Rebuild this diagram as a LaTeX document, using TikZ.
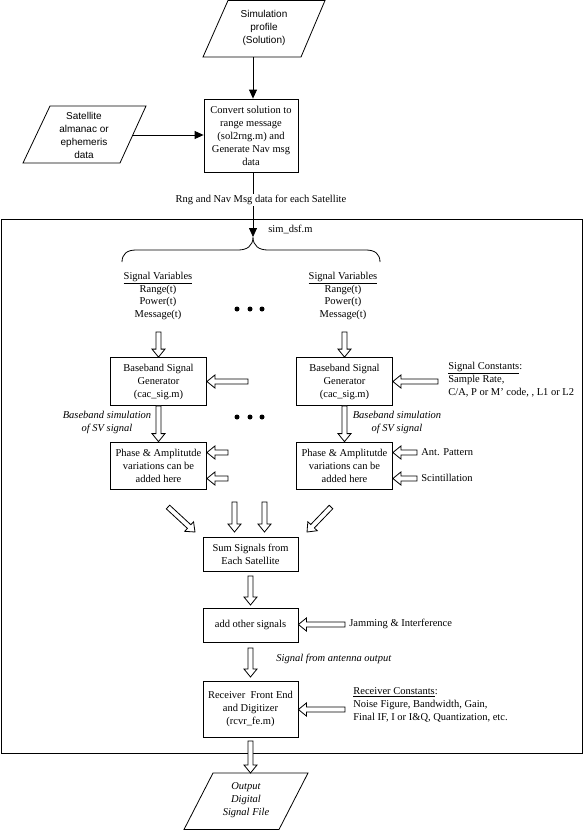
\documentclass[tikz,border=0pt]{standalone}
\usepackage{fontspec}
\setmainfont{Liberation Serif}
\newfontfamily\sansf{Liberation Sans}
\usetikzlibrary{arrows.meta,calc}
\newcommand\hollowarrow[2]{%
  \draw[harr] let \p1=($(#2)-(#1)$), \n1={veclen(\x1,\y1)}, \n2={atan2(\y1,\x1)} in
    {[shift={(#1)}, rotate=\n2]
     (0,-2.5) -- ({\n1-8},-2.5) -- ({\n1-8},-6.5) -- (\n1,0) -- ({\n1-8},6.5) -- ({\n1-8},2.5) -- (0,2.5) -- cycle};}
\begin{document}
\begin{tikzpicture}[x=1pt,y=-1pt,
  every path/.style={line width=0.8pt},
  box/.style={draw, line width=0.8pt, align=center, inner sep=0pt, font=\fontsize{10.5}{13}\selectfont},
  txt/.style={align=center, inner sep=0pt, font=\fontsize{10.5}{13}\selectfont},
  stxt/.style={align=center, inner sep=0pt, font=\sansf\fontsize{10}{13}\selectfont},
  itxt/.style={align=center, inner sep=0pt, font=\itshape\fontsize{10.5}{13}\selectfont},
  dotn/.style={circle, fill=black, inner sep=0pt, minimum size=5pt},
  arr/.style={line width=0.8pt, -{Triangle[length=9pt,width=8pt]}},
  harr/.style={line width=0.8pt, fill=white, line join=miter}]
\useasboundingbox (0,0) rectangle (583,830);

% outer frame
\draw (1,219) rectangle (582,753);

% top inputs
\node[stxt] (sim) at (264,28) {Simulation\\profile\\(Solution)};
\draw (228,0.5) -- (325,0.5) -- (301,57) -- (203,57) -- cycle;
\coordinate (simb) at (253,57);

\node[box, minimum width=94pt, minimum height=73pt] (conv) at (251,135.5)
  {Convert solution to\\range message\\(sol2rng.m) and\\Generate Nav msg\\data};
\draw[arr] (simb) -- (simb |- conv.north);

\node[stxt] (sat) at (84,135) {Satellite\\almanac or\\ephemeris\\data};
\draw (50,106) -- (146,106) -- (120,163) -- (23,163) -- cycle;
\coordinate (satr) at (133,135);
\draw[arr] (satr) -- (conv.west |- satr);

% brace
\coordinate (tip) at (253,237);
\draw (122,262) .. controls (122,254) and (127,250) .. (136,250) -- (238,250)
  .. controls (247,250) and (253,246) .. (tip)
  .. controls (253,246) and (259,250) .. (268,250) -- (366,250)
  .. controls (375,250) and (380,254) .. (380,262);
\draw[arr] (tip |- conv.south) -- (tip);
\node[txt, fill=white, inner sep=1pt] (rng) at (261,200) {Rng and Nav Msg data for each Satellite};
\node[txt, anchor=west] (simdsf) at (268,229) {sim\_dsf.m};

% signal variables
\node[txt, font=\fontsize{10.5}{12.6}\selectfont] (svL) at (158,296) {\underline{Signal Variables}\\Range(t)\\Power(t)\\Message(t)};
\node[txt, font=\fontsize{10.5}{12.6}\selectfont] (svR) at (343,296) {\underline{Signal Variables}\\Range(t)\\Power(t)\\Message(t)};
\node[dotn] (dA1) at (237,309) {};
\node[dotn] (dA2) at (250,309) {};
\node[dotn] (dA3) at (262,309) {};
\node[dotn] (dB1) at (237,417) {};
\node[dotn] (dB2) at (250,417) {};
\node[dotn] (dB3) at (262,417) {};

% baseband boxes
\node[box, minimum width=96pt, minimum height=48pt] (bbL) at (158.5,381.5) {Baseband Signal\\Generator\\(cac\_sig.m)};
\node[box, minimum width=96pt, minimum height=48pt] (bbR) at (344.5,381.5) {Baseband Signal\\Generator\\(cac\_sig.m)};
\coordinate (svLb) at (158.5,332);
\coordinate (svRb) at (344.5,332);
\hollowarrow{svLb}{bbL.north}
\hollowarrow{svRb}{bbR.north}
\coordinate (bbLin) at (248,381.5);
\coordinate (bbRin) at (438,381.5);
\hollowarrow{bbLin}{bbL.east}
\hollowarrow{bbRin}{bbR.east}
\node[txt, anchor=west, align=left] (sc) at (448,380) {\underline{Signal Constants}:\\Sample Rate,\\C/A, P or M’ code, , L1 or L2};

% phase boxes
\node[box, minimum width=96pt, minimum height=47pt] (phL) at (158.5,465.5) {Phase \& Amplitutde\\variations can be\\added here};
\node[box, minimum width=96pt, minimum height=47pt] (phR) at (344.5,465.5) {Phase \& Amplitutde\\variations can be\\added here};
\hollowarrow{bbL.south}{phL.north}
\hollowarrow{bbR.south}{phR.north}
\node[itxt] (bsL) at (107,422) {Baseband simulation\\of SV signal};
\node[itxt] (bsR) at (397,422) {Baseband simulation\\of SV signal};
\coordinate (pLa) at (228,452.5);
\coordinate (pLb) at (228,478.5);
\coordinate (pRa) at (417,452.5);
\coordinate (pRb) at (417,478.5);
\coordinate (pLae) at (phL.east |- pLa);
\coordinate (pLbe) at (phL.east |- pLb);
\coordinate (pRae) at (phR.east |- pRa);
\coordinate (pRbe) at (phR.east |- pRb);
\hollowarrow{pLa}{pLae}
\hollowarrow{pLb}{pLbe}
\hollowarrow{pRa}{pRae}
\hollowarrow{pRb}{pRbe}
\node[txt, anchor=west] (ant) at (421,452) {Ant. Pattern};
\node[txt, anchor=west] (scint) at (421,478) {Scintillation};

% sum
\node[box, minimum width=95pt, minimum height=34pt] (sum) at (250.5,554) {Sum Signals from\\Each Satellite};
\coordinate (s1a) at (168,507); \coordinate (s1b) at (195,532);
\coordinate (s2a) at (234.5,502); \coordinate (s2b) at (234.5,532);
\coordinate (s3a) at (264.5,502); \coordinate (s3b) at (264.5,532);
\coordinate (s4a) at (331,507); \coordinate (s4b) at (307,532);
\hollowarrow{s1a}{s1b}
\hollowarrow{s2a}{s2b}
\hollowarrow{s3a}{s3b}
\hollowarrow{s4a}{s4b}

% add other signals
\node[box, minimum width=95pt, minimum height=34pt] (add) at (250.5,625) {add other signals};
\coordinate (sa1) at (250.5,576); \coordinate (sa2) at (250.5,605);
\hollowarrow{sa1}{sa2}
\coordinate (jam) at (345,624.5);
\coordinate (jame) at (add.east |- jam);
\hollowarrow{jam}{jame}
\node[txt, anchor=west] (jamt) at (349,624) {Jamming \& Interference};

% receiver
\node[box, minimum width=95pt, minimum height=56pt] (rcv) at (250.5,709) {Receiver~~Front End\\and Digitizer\\(rcvr\_fe.m)};
\coordinate (ar1) at (250.5,648); \coordinate (ar2) at (250.5,677);
\hollowarrow{ar1}{ar2}
\node[itxt, anchor=west] (sfa) at (276,659) {Signal from antenna output};
\coordinate (rc) at (345,709.5);
\coordinate (rce) at (rcv.east |- rc);
\hollowarrow{rc}{rce}
\node[txt, anchor=west, align=left] (rct) at (353,705) {\underline{Receiver Constants}:\\Noise Figure, Bandwidth, Gain,\\Final IF, I or I\&Q, Quantization, etc.};

% output
\node[itxt] (out) at (246,800) {Output\\Digital\\Signal File};
\draw (213,773) -- (308,773) -- (279,829.5) -- (184,829.5) -- cycle;
\coordinate (ro1) at (250.5,741); \coordinate (ro2) at (250.5,773);
\hollowarrow{ro1}{ro2}
\end{tikzpicture}
\end{document}
